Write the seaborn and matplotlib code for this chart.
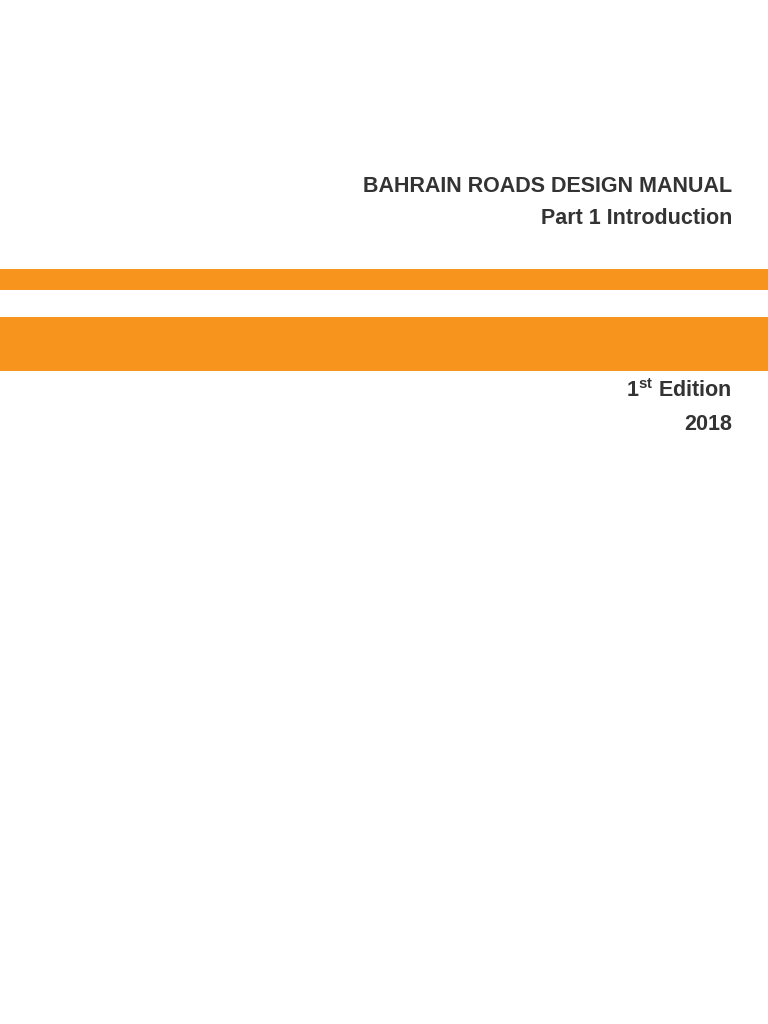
import matplotlib
matplotlib.use("Agg")
import matplotlib.pyplot as plt
import seaborn as sns

title_lines = ["BAHRAIN ROADS DESIGN MANUAL", "Part 1 Introduction"]
edition_num = "1"
edition_sup = "st"
edition_word = " Edition"
year = "2018"
band_tops = [269, 317]
band_bottoms = [290, 371]
band_color = "#F7941D"
text_color = "#333333"

sns.set_theme(style="white")
plt.rcParams['font.family'] = ['Liberation Sans', 'DejaVu Sans']

fig = plt.figure(figsize=(7.68, 10.24), dpi=100)
ax = fig.add_axes([0, 0, 1, 1])
ax.set_xlim(0, 768)
ax.set_ylim(1024, 0)
ax.axis("off")
fig.patch.set_facecolor("white")

for t, b in zip(band_tops, band_bottoms):
    ax.axhspan(t, b, color=band_color, lw=0)

ax.text(732, 186, title_lines[0], ha="right", va="center", fontsize=15.5,
        fontweight="bold", color=text_color)
ax.text(732, 218, title_lines[1], ha="right", va="center", fontsize=15.5,
        fontweight="bold", color=text_color)
ax.text(732, 391, r"1$^{\mathregular{st}}$ Edition", ha="right", va="center",
        fontsize=15.5, fontweight="bold", color=text_color)
ax.text(732, 424, year, ha="right", va="center", fontsize=15.5,
        fontweight="bold", color=text_color)

fig.savefig("out.png", dpi=100, facecolor="white")
